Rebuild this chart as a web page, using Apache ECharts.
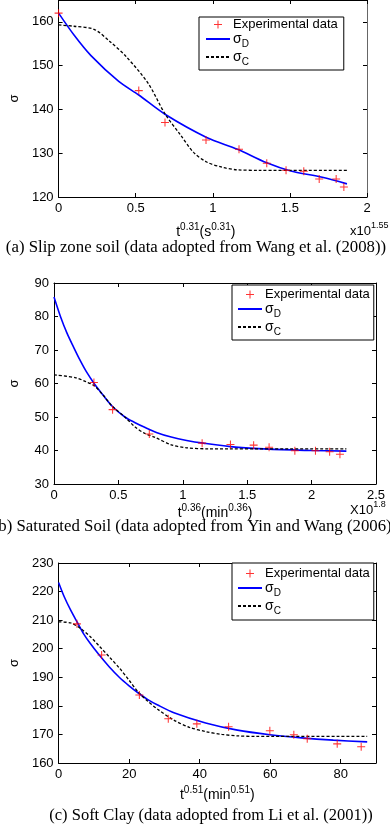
<!DOCTYPE html>
<html><head><meta charset="utf-8">
<script src="https://cdn.jsdelivr.net/npm/echarts@6/dist/echarts.min.js"></script>
<style>html,body{margin:0;padding:0;background:#fff}#c{width:390px;height:826px}</style>
</head><body><div id="c"></div>
<script>
// ---------- Panel (a): Slip zone soil ----------
const aExpX = [0, 0.52, 0.69, 0.956, 1.17, 1.35, 1.475, 1.59, 1.69, 1.80, 1.85];
const aExpY = [162.0, 144.3, 137.0, 133.0, 130.9, 127.7, 126.1, 125.9, 124.1, 124.1, 122.3];
const aDX = [0, 0.1, 0.21, 0.39, 0.52, 0.69, 0.96, 1.16, 1.35, 1.5, 1.71, 1.87];
const aDY = [162, 157, 152.3, 146.4, 143.3, 138.9, 133.6, 130.9, 127.8, 126.0, 124.5, 123.0];
const aCX = [0, 0.1, 0.23, 0.33, 0.44, 0.58, 0.69, 0.79, 0.875, 0.96, 1.06, 1.16, 1.3, 1.87];
const aCY = [159.3, 159.0, 158.3, 155.6, 152.0, 146.0, 139.0, 134.2, 130.2, 128.0, 126.8, 126.2, 126.1, 126.1];
const aXTicks = {min: 0, max: 2, interval: 0.5};
const aYTicks = {min: 120, max: 165, interval: 10};

// ---------- Panel (b): Saturated soil ----------
const bExpX = [0.31, 0.455, 0.74, 1.15, 1.37, 1.55, 1.67, 1.87, 2.03, 2.14, 2.22];
const bExpY = [60.3, 52.2, 44.9, 42.2, 41.8, 41.6, 41.0, 39.9, 39.9, 39.6, 38.9];
const bDX = [0, 0.05, 0.1, 0.15, 0.2, 0.25, 0.31, 0.38, 0.45, 0.55, 0.63, 0.70, 0.80, 0.91, 1.03, 1.16, 1.41, 1.67, 2.0, 2.27];
const bDY = [85.8, 80.0, 75.1, 71.0, 67.1, 63.6, 60.1, 56.6, 53.3, 50.0, 48.3, 47.0, 45.3, 44.0, 43.0, 42.2, 41.0, 40.4, 40.0, 39.8];
const bCX = [0, 0.17, 0.25, 0.31, 0.38, 0.45, 0.55, 0.63, 0.70, 0.78, 0.91, 1.03, 1.2, 2.27];
const bCY = [62.6, 61.7, 60.5, 59.4, 56.6, 53.3, 50.0, 47.0, 45.2, 44.0, 41.7, 40.8, 40.5, 40.5];
const bXTicks = {min: 0, max: 2.5, interval: 0.5};
const bYTicks = {min: 30, max: 90, interval: 10};

// ---------- Panel (c): Soft clay ----------
const cExpX = [5.2, 12.2, 22.9, 31.1, 39.2, 48.2, 59.9, 66.7, 70.5, 79.0, 85.8];
const cExpY = [208.7, 197.8, 183.8, 175.5, 173.7, 172.7, 171.3, 169.9, 168.5, 166.7, 165.7];
const cDX = [0, 1.6, 3.5, 5.4, 7.1, 9.0, 11.7, 14.4, 17.2, 19.9, 22.6, 25.3, 28.1, 32.7, 41.7, 50.7, 59.9, 68.9, 77.9, 87.5];
const cDY = [223.2, 218.2, 213.3, 209.0, 205.2, 201.8, 197.5, 193.6, 190.0, 187.1, 184.5, 182.2, 180.3, 177.6, 174.0, 171.5, 169.9, 168.8, 168.0, 167.4];
const cCX = [0, 3.5, 6.3, 9.0, 11.7, 14.4, 17.2, 19.9, 22.6, 25.3, 28.1, 32.7, 37.1, 41.7, 46.3, 50.7, 56, 87.5];
const cCY = [209.4, 209.0, 207.0, 204.2, 200.7, 197.1, 193.3, 189.1, 184.8, 181.6, 178.8, 175.0, 172.5, 171.0, 170.0, 169.5, 169.3, 169.3];
const cXTicks = {min: 0, max: 90, interval: 20};
const cYTicks = {min: 160, max: 230, interval: 10};

// ---------- Labels ----------
const xLabels = ['{b|t}{p|0.31}{b|(s}{p|0.31}{b|)}', '{b|t}{p|0.36}{b|(min}{p|0.36}{b|)}', '{b|t}{p|0.51}{b|(min}{p|0.51}{b|)}'];
const multipliers = ['{b|x10}{p|1.55}', '{b|X10}{p|1.8}'];
const captions = [
  '(a) Slip zone soil (data adopted from Wang et al. (2008))',
  '(b) Saturated Soil (data adopted from Yin and Wang (2006))',
  '(c) Soft Clay (data adopted from Li et al. (2001))'
];
const legendNames = ['Experimental data', 'σD', 'σC'];

const SANS = '"Liberation Sans", Arial, Helvetica, sans-serif';
const SERIF = '"Liberation Serif", "Times New Roman", serif';
const PLUS = 'path://M4.35 0H5.65V4.35H10V5.65H5.65V10H4.35V5.65H0V4.35H4.35Z';
const zip = (xs, ys) => xs.map((x, i) => [x, ys[i]]);

const grids = [
  {left: 47, top: 0, width: 320, height: 197},
  {left: 47, top: 283, width: 329, height: 201},
  {left: 47, top: 563, width: 329, height: 200}
];
const xNameGaps = [25, 18, 22];
const xNamePads = [[0, 14, 0, 0], [0, 0, 0, 0], [0, 0, 0, 0]];
const lineColors = [['#000', '#000', '#666', '#666'], ['#000', '#000', '#000', '#000'], ['#000', '#000', '#000', '#000']];
const panels = [
  {xt: aXTicks, yt: aYTicks, ex: [aExpX, aExpY], d: [aDX, aDY], c: [aCX, aCY]},
  {xt: bXTicks, yt: bYTicks, ex: [bExpX, bExpY], d: [bDX, bDY], c: [bCX, bCY]},
  {xt: cXTicks, yt: cYTicks, ex: [cExpX, cExpY], d: [cDX, cDY], c: [cCX, cCY]}
];
const legendPos = [
  {left: 199, top: 17, padding: [1, 6, 3, 6]},
  {left: 232, top: 285, padding: [3, 4, 3, 5]},
  {left: 232, top: 563, padding: [4, 4, 4, 5]}
];

const supRich = {
  b: {fontSize: 14, lineHeight: 20, verticalAlign: 'middle', fontFamily: SANS, color: '#000'},
  p: {fontSize: 10, lineHeight: 10, verticalAlign: 'top', fontFamily: SANS, color: '#000'}
};
const multRich = {
  b: {fontSize: 13, lineHeight: 20, verticalAlign: 'middle', fontFamily: SANS, color: '#000'},
  p: {fontSize: 9, lineHeight: 10, verticalAlign: 'top', fontFamily: SANS, color: '#000'}
};

const xAxis = [], yAxis = [], series = [], legend = [], graphic = [];
panels.forEach((p, i) => {
  const col = lineColors[i];
  const tick = {show: true, inside: true, length: 4, lineStyle: {color: '#000', width: 1}};
  xAxis.push({
    gridIndex: i, type: 'value', position: 'bottom', min: p.xt.min, max: p.xt.max, interval: p.xt.interval,
    axisLine: {show: true, onZero: false, lineStyle: {color: col[1], width: 1}},
    axisTick: tick, splitLine: {show: false},
    axisLabel: {fontSize: 13, color: '#000', fontFamily: SANS, margin: 5, showMaxLabel: i !== 2},
    name: xLabels[i], nameLocation: 'middle', nameGap: xNameGaps[i],
    nameTextStyle: {rich: supRich, padding: xNamePads[i]}
  });
  xAxis.push({
    gridIndex: i, type: 'value', position: 'top', min: p.xt.min, max: p.xt.max, interval: p.xt.interval,
    axisLine: {show: true, onZero: false, lineStyle: {color: col[0], width: 1}},
    axisTick: tick, axisLabel: {show: false}, splitLine: {show: false}
  });
  yAxis.push({
    gridIndex: i, type: 'value', position: 'left', min: p.yt.min, max: p.yt.max, interval: p.yt.interval,
    axisLine: {show: true, onZero: false, lineStyle: {color: '#000', width: 1}},
    axisTick: tick, splitLine: {show: false},
    axisLabel: {fontSize: 13, color: '#000', fontFamily: SANS, margin: 5, showMaxLabel: i !== 0},
    name: 'σ', nameLocation: 'middle', nameGap: 33,
    nameTextStyle: {fontSize: 13, color: '#000', fontFamily: SANS}
  });
  yAxis.push({
    gridIndex: i, type: 'value', position: 'right', min: p.yt.min, max: p.yt.max, interval: p.yt.interval,
    axisLine: {show: true, onZero: false, lineStyle: {color: col[2], width: 1}},
    axisTick: tick, axisLabel: {show: false}, splitLine: {show: false}
  });
  series.push({
    type: 'line', name: 'σD', xAxisIndex: 2 * i, yAxisIndex: 2 * i, data: zip(p.d[0], p.d[1]),
    symbol: 'none', smooth: 0.3, z: 3,
    lineStyle: {color: '#0000ff', width: 1.6}, itemStyle: {color: '#0000ff'}
  });
  series.push({
    type: 'line', name: 'σC', xAxisIndex: 2 * i, yAxisIndex: 2 * i, data: zip(p.c[0], p.c[1]),
    symbol: 'none', smooth: 0.3, z: 4,
    lineStyle: {color: '#000', width: 1.3, type: [3, 2]}, itemStyle: {color: '#000'}
  });
  series.push({
    type: 'scatter', name: 'Experimental data', xAxisIndex: 2 * i, yAxisIndex: 2 * i, data: zip(p.ex[0], p.ex[1]),
    symbol: PLUS, symbolSize: 8, z: 5, itemStyle: {color: '#ff0000'}
  });
  legend.push(Object.assign({
    orient: 'vertical',
    data: [
      {name: legendNames[0]},
      {name: legendNames[1], itemStyle: {opacity: 0}},
      {name: legendNames[2], itemStyle: {opacity: 0}}
    ],
    itemWidth: 24, itemHeight: 8, itemGap: 1,
    backgroundColor: '#fff', borderColor: '#000', borderWidth: 1, selectedMode: false,
    formatter: n => n === 'Experimental data' ? '{t|Experimental data}' : (n === 'σD' ? '{s|σ}{sub|D}' : '{s|σ}{sub|C}'),
    textStyle: {
      color: '#000', fontFamily: SANS, fontSize: 13, padding: [0, 0, 0, -2],
      rich: {
        t: {fontSize: 13, lineHeight: 20, fontFamily: SANS, color: '#000'},
        s: {fontSize: 14, lineHeight: 20, verticalAlign: 'middle', fontFamily: SANS, color: '#000'},
        sub: {fontSize: 10, lineHeight: 10, verticalAlign: 'bottom', fontFamily: SANS, color: '#000'}
      }
    }
  }, legendPos[i]));
});

const multPos = [[350, 231], [350, 510]];
multPos.forEach((pos, i) => {
  graphic.push({
    type: 'text', x: pos[0], y: pos[1], silent: true,
    style: {text: multipliers[i], rich: multRich, align: 'left', verticalAlign: 'middle', textAlign: 'left', textVerticalAlign: 'middle'}
  });
});
const capPos = [[196, 248, 16.8], [195, 527, 16.8], [211, 816, 16.5]];
capPos.forEach((pos, i) => {
  graphic.push({
    type: 'text', x: pos[0], y: pos[1], silent: true,
    style: {text: captions[i], font: pos[2] + 'px ' + SERIF, fill: '#000', align: 'center', verticalAlign: 'middle', textAlign: 'center', textVerticalAlign: 'middle'}
  });
});

const chart = echarts.init(document.getElementById('c'), null, {renderer: 'canvas'});
chart.setOption({
  animation: false, backgroundColor: '#fff',
  grid: grids, xAxis: xAxis, yAxis: yAxis, legend: legend, series: series, graphic: graphic
});
</script></body></html>
